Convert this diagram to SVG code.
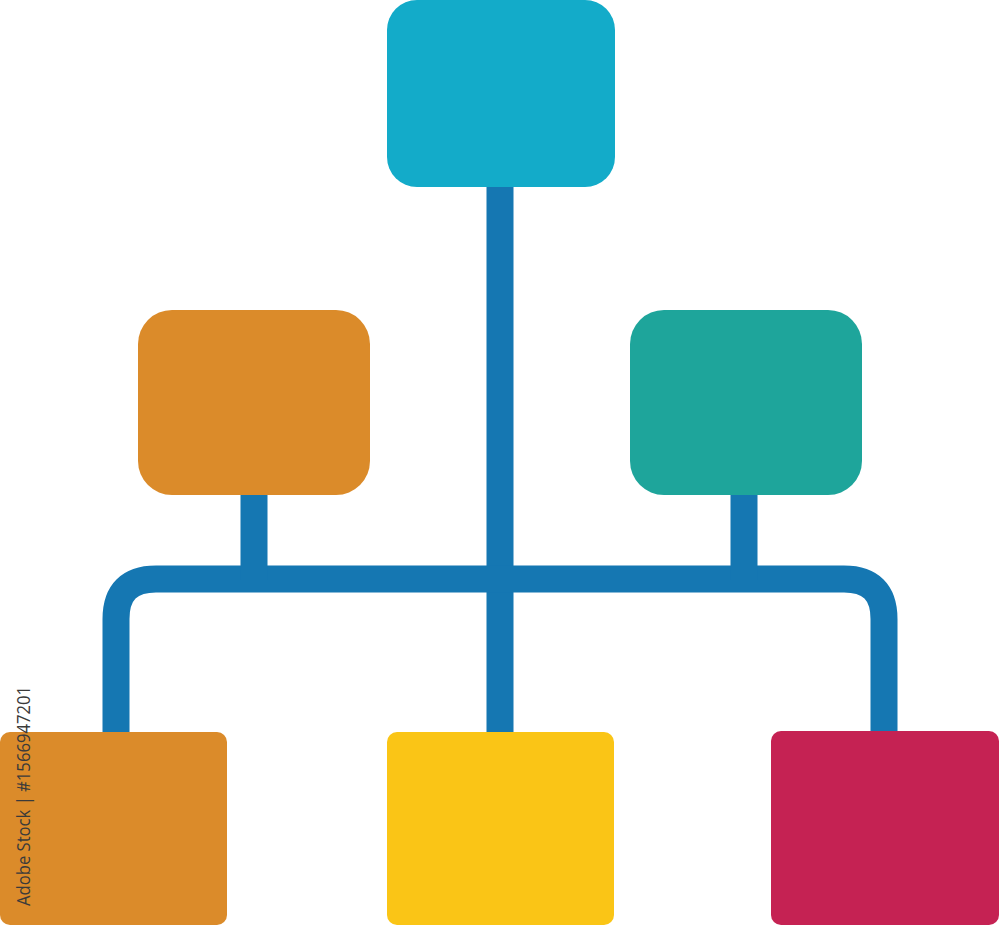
<svg xmlns="http://www.w3.org/2000/svg" width="1000" height="925" viewBox="0 0 1000 925">
<style>
.conn{fill:none;stroke:#1577b2;stroke-width:27}
.wm{font-family:"Open Sans","Liberation Sans",sans-serif;font-size:19px;fill:#3a3a3a}
</style>
<rect width="1000" height="925" fill="#ffffff"/>
<g id="connectors">
<line class="conn" x1="500" y1="180" x2="500" y2="740"/>
<path class="conn" d="M116 740 V619 Q116 579 156 579 H844 Q884 579 884 619 V740"/>
<line class="conn" x1="254" y1="490" x2="254" y2="580"/>
<line class="conn" x1="744" y1="490" x2="744" y2="580"/>
</g>
<g id="top"><rect x="387" y="0" width="228" height="187" rx="30" fill="#13abc9"/></g>
<g id="midLeft"><rect x="138" y="310" width="232" height="185" rx="34" fill="#db8b2a"/></g>
<g id="midRight"><rect x="630" y="310" width="232" height="185" rx="34" fill="#1ea59b"/></g>
<g id="botLeft"><rect x="0" y="732" width="227" height="193" rx="10" fill="#db8b2a"/></g>
<g id="botMid"><rect x="387" y="732" width="227" height="193" rx="10" fill="#fac516"/></g>
<g id="botRight"><rect x="771" y="731" width="228" height="194" rx="10" fill="#c52253"/></g>
<text class="wm" transform="translate(30,906) rotate(-90)" textLength="220" lengthAdjust="spacingAndGlyphs">Adobe Stock | #1566947201</text>
</svg>
